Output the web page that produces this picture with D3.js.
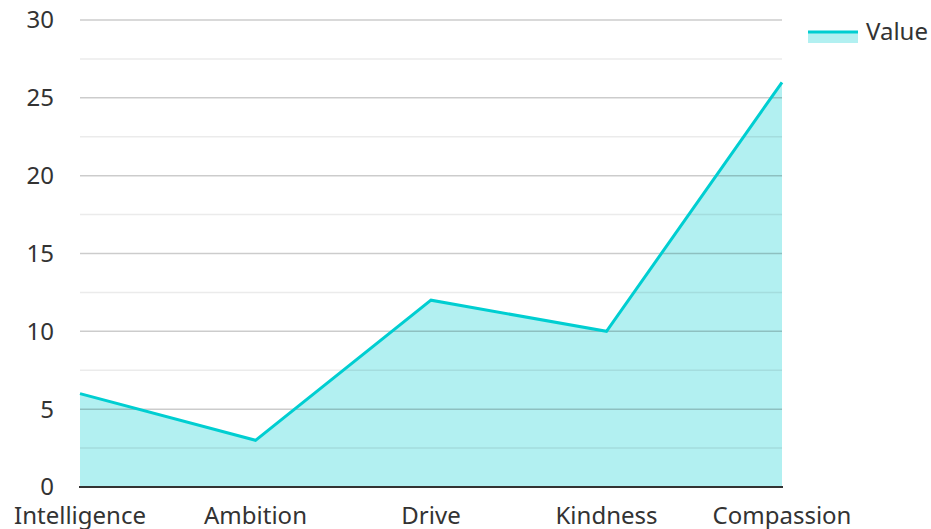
<!DOCTYPE html>
<html><head><meta charset="utf-8">
<script src="https://cdn.jsdelivr.net/npm/d3@7"></script>
<style>body{margin:0;background:#fff}svg{display:block;font-family:"Noto Sans",sans-serif}</style>
</head><body><svg id="c" width="931" height="529"></svg>
<script>
const categories = ["Intelligence","Ambition","Drive","Kindness","Compassion"];
const values = [6,3,12,10,26];
const yTicks = [0,5,10,15,20,25,30];
const minorTicks = [2.5,7.5,12.5,17.5,22.5,27.5];
const seriesName = "Value";
const color = "#00CED1";

const svg = d3.select("#c");
const x = d3.scalePoint().domain(categories).range([80,782]);
const y = d3.scaleLinear().domain([0,30]).range([487,20]);
const data = categories.map((c,i)=>({c,v:values[i]}));

svg.append("path").datum(data)
  .attr("d", d3.area().x(d=>x(d.c)).y0(y(0)).y1(d=>y(d.v)))
  .attr("fill", color).attr("fill-opacity",0.3);

svg.append("g").selectAll("line").data(minorTicks).join("line")
  .attr("x1",80).attr("x2",782).attr("y1",d=>y(d)).attr("y2",d=>y(d))
  .attr("stroke","rgba(0,0,0,0.08)").attr("stroke-width",1.5);
svg.append("g").selectAll("line").data(yTicks.filter(t=>t>0)).join("line")
  .attr("x1",80).attr("x2",782).attr("y1",d=>y(d)).attr("y2",d=>y(d))
  .attr("stroke","rgba(0,0,0,0.2)").attr("stroke-width",1.5);

svg.append("path").datum(data)
  .attr("d", d3.line().x(d=>x(d.c)).y(d=>y(d.v)))
  .attr("fill","none").attr("stroke",color).attr("stroke-width",3).attr("stroke-linejoin","miter");

svg.append("line").attr("x1",79).attr("x2",783).attr("y1",y(0)).attr("y2",y(0))
  .attr("stroke","#333").attr("stroke-width",2);

svg.append("g").selectAll("text").data(yTicks).join("text")
  .attr("x",54).attr("y",d=>y(d)).attr("dy","0.35em").attr("text-anchor","end")
  .attr("font-size",24).attr("fill","#333").text(d=>d);

svg.append("g").selectAll("text").data(categories).join("text")
  .attr("x",d=>x(d)).attr("y",524).attr("text-anchor","middle")
  .attr("font-size",24).attr("fill","#333").text(d=>d);

const lg = svg.append("g");
lg.append("rect").attr("x",808).attr("y",33).attr("width",50).attr("height",10).attr("fill",color).attr("fill-opacity",0.3);
lg.append("line").attr("x1",808).attr("x2",858).attr("y1",32).attr("y2",32).attr("stroke",color).attr("stroke-width",3);
lg.append("text").attr("x",866).attr("y",32).attr("dy","0.35em").attr("font-size",24).attr("fill","#333").text(seriesName);
</script></body></html>
